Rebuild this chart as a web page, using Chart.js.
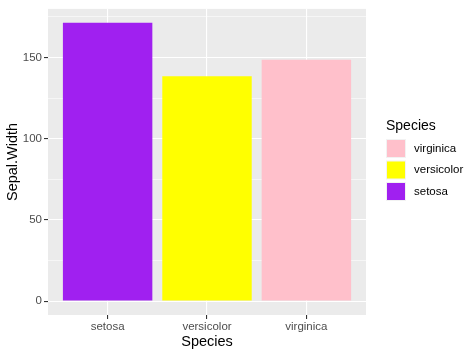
<!DOCTYPE html>
<html><head><meta charset="utf-8">
<script src="https://cdn.jsdelivr.net/npm/chart.js@4"></script>
<style>html,body{margin:0;padding:0;background:#fff}#wrap{width:474px;height:355px}</style>
</head><body><div id="wrap"><canvas id="c" width="474" height="355"></canvas></div>
<script>
const categories = ['setosa', 'versicolor', 'virginica'];
const sepalWidth = [171.4, 138.5, 148.7];
const barColors = ['#A020F0', '#FFFF00', '#FFC0CB'];
const legendOrder = ['virginica', 'versicolor', 'setosa'];
const yTicks = [0, 50, 100, 150];
const yMinorTicks = [25, 75, 125, 175];

const FONT = "'Liberation Sans', Arial, sans-serif";
const yMin = -0.05 * Math.max(...sepalWidth);
const yMax = Math.max(...sepalWidth) * 1.05;

const panelBg = {
  id: 'panelBg',
  beforeDraw(chart) {
    const {ctx, chartArea: a} = chart;
    ctx.save();
    ctx.fillStyle = '#EBEBEB';
    ctx.fillRect(a.left, a.top, a.right - a.left, a.bottom - a.top);
    ctx.restore();
  }
};

const customLegend = {
  id: 'customLegend',
  afterDraw(chart) {
    const ctx = chart.ctx;
    ctx.save();
    ctx.fillStyle = '#000';
    ctx.font = '14px ' + FONT;
    ctx.textBaseline = 'middle';
    ctx.textAlign = 'left';
    ctx.fillText('Species', 386, 126);
    ctx.font = '11.5px ' + FONT;
    legendOrder.forEach((name, i) => {
      const idx = categories.indexOf(name);
      const y = 139 + i * 21.5;
      ctx.fillStyle = '#F2F2F2';
      ctx.fillRect(386, y, 20, 19);
      ctx.fillStyle = barColors[idx];
      ctx.fillRect(387, y + 1, 18, 17);
      ctx.fillStyle = '#000';
      ctx.fillText(name, 414, y + 9.5);
    });
    ctx.restore();
  }
};

new Chart(document.getElementById('c'), {
  type: 'bar',
  data: {
    datasets: [{
      data: categories.map((c, i) => ({x: i + 1, y: sepalWidth[i]})),
      backgroundColor: barColors,
      borderWidth: 0,
      barPercentage: 0.9,
      categoryPercentage: 1.0
    }]
  },
  options: {
    responsive: false,
    animation: false,
    devicePixelRatio: 1,
    layout: {padding: {top: 6, right: 108, left: 0, bottom: 0}},
    plugins: {legend: {display: false}, tooltip: {enabled: false}},
    scales: {
      x: {
        type: 'linear',
        min: 0.4, max: 3.6,
        offset: false,
        afterBuildTicks(s) { s.ticks = categories.map((c, i) => ({value: i + 1})); },
        afterFit(s) { s.height = 40; },
        ticks: {
          callback: (v) => categories[Math.round(v) - 1] || '',
          color: '#4D4D4D', font: {family: FONT, size: 11.5}, padding: 1, maxRotation: 0, autoSkip: false
        },
        grid: {offset: false, color: '#FFFFFF', lineWidth: 1.1, tickLength: 4, tickColor: '#333333', drawTicks: true},
        border: {display: false},
        title: {display: true, text: 'Species', color: '#000', font: {family: FONT, size: 14.5}, padding: {top: 0, bottom: 4}}
      },
      y: {
        type: 'linear',
        min: yMin, max: yMax,
        afterBuildTicks(s) {
          s.ticks = yTicks.concat(yMinorTicks).sort((a, b) => a - b).map(v => ({value: v}));
        },
        afterFit(s) { s.width = 48; },
        ticks: {
          callback: (v) => yTicks.includes(v) ? String(v) : '',
          color: '#4D4D4D', font: {family: FONT, size: 11.5}, padding: 2
        },
        grid: {
          color: '#FFFFFF',
          lineWidth: (c) => yTicks.includes(c.tick && c.tick.value) ? 1.1 : 0.55,
          tickLength: 4,
          tickColor: (c) => yTicks.includes(c.tick && c.tick.value) ? '#333333' : 'rgba(0,0,0,0)'
        },
        border: {display: false},
        title: {display: true, text: 'Sepal.Width', color: '#000', font: {family: FONT, size: 14.5}, padding: {top: 4, bottom: 0}}
      }
    }
  },
  plugins: [panelBg, customLegend]
});
</script></body></html>
